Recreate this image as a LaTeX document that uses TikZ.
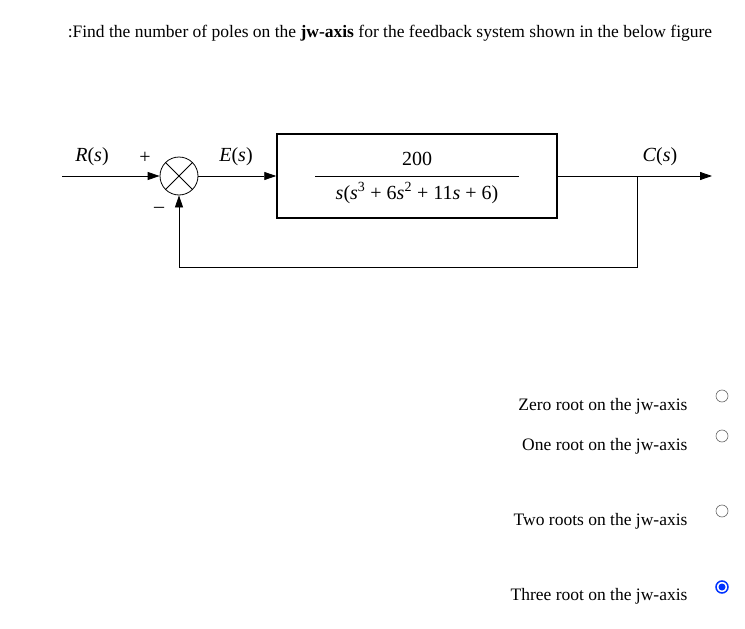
\documentclass[tikz,border=0pt]{standalone}
\usepackage{fontspec}
\setmainfont{Liberation Serif}
\usetikzlibrary{arrows.meta}
\newcommand{\iv}[1]{\textit{#1}}
\begin{document}
\begin{tikzpicture}[x=1pt,y=-1pt,
  sig/.style={line width=0.8pt,-{Triangle[length=12pt,width=8pt]}},
  wire/.style={line width=0.8pt},
  lbl/.style={font=\fontsize{20}{24}\selectfont},
  opt/.style={font=\fontsize{17.5}{20}\selectfont,anchor=east},
  radio/.style={circle,draw=gray!80!black,line width=0.6pt,minimum size=12pt,inner sep=0pt}]
\useasboundingbox (0,0) rectangle (745,629);
\node[font=\fontsize{17.5}{20}\selectfont] (q) at (390,33) {:Find the number of poles on the \textbf{jw-axis} for the feedback system shown in the below figure};
\coordinate (in) at (62,176);
\node[circle,draw,line width=0.8pt,minimum size=38pt,inner sep=0pt] (sum) at (179,176) {};
\draw[line width=0.8pt] (sum.north west)--(sum.south east) (sum.north east)--(sum.south west);
\node[draw,line width=1.5pt,minimum width=280pt,minimum height=84pt] (g) at (417,176) {};
\node[lbl] (num) at (417,159) {200};
\node[lbl] (den) at (417,193) {\iv{s}(\iv{s}\textsuperscript{3} + 6\iv{s}\textsuperscript{2} + 11\iv{s} + 6)};
\coordinate (fl) at (315,176);
\coordinate (fr) at (519,176);
\draw[line width=0.8pt] (fl)--(fr);
\coordinate (out) at (712,176);
\coordinate (br) at (637,176);
\coordinate (b1) at (637,267);
\coordinate (b2) at (179,267);
\draw[sig] (in)--(sum.west);
\draw[sig] (sum.east)--(g.west);
\draw[sig] (g.east)--(out);
\draw[wire] (br)--(b1)--(b2);
\draw[sig] (b2)--(sum.south);
\node[lbl] (r) at (92,157) {\iv{R}(\iv{s})};
\node[lbl] (p) at (145,158) {+};
\node[lbl] (m) at (159,210) {–};
\node[lbl] (e) at (236,157) {\iv{E}(\iv{s})};
\node[lbl] (c) at (660,157) {\iv{C}(\iv{s})};
\node[opt] (o1) at (691,406) {Zero root on the jw-axis};
\node[opt] (o2) at (691,446) {One root on the jw-axis};
\node[opt] (o3) at (691,521) {Two roots on the jw-axis};
\node[opt] (o4) at (691,596) {Three root on the jw-axis};
\node[radio] (r1) at (722,396) {};
\node[radio] (r2) at (722,436) {};
\node[radio] (r3) at (722,511) {};
\node[radio,draw=blue!80!cyan,line width=1.5pt] (r4) at (722,587) {};
\fill[blue!80!cyan] (r4) circle (3.5pt);
\end{tikzpicture}
\end{document}
